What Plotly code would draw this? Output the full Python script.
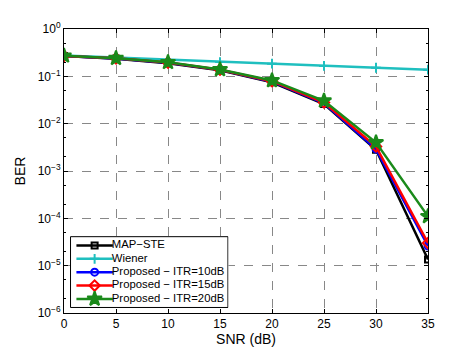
import plotly.graph_objects as go

snr = [0, 5, 10, 15, 20, 25, 30, 35]
map_ste = [0.27, 0.235, 0.19, 0.135, 0.075, 0.026, 0.0028, 1.35e-5]
wiener = [0.275, 0.25, 0.22, 0.2, 0.185, 0.166, 0.152, 0.138]
itr10 = [0.27, 0.238, 0.193, 0.137, 0.077, 0.027, 0.0029, 2.6e-5]
itr15 = [0.27, 0.24, 0.195, 0.138, 0.079, 0.028, 0.0033, 3.0e-5]
itr20 = [0.272, 0.242, 0.198, 0.14, 0.082, 0.0305, 0.0040, 1.1e-4]
names = ["MAP\u2212STE", "Wiener", "Proposed \u2212 ITR=10dB",
         "Proposed \u2212 ITR=15dB", "Proposed \u2212 ITR=20dB"]

values = [map_ste, wiener, itr10, itr15, itr20]
styles = [
    ("black", "square-open", 6),
    ("#1fbfbf", "cross-thin-open", 7),
    ("#0000ff", "circle-open", 7),
    ("#ff0000", "diamond-open", 8),
    ("#1a8a1a", "star", 11),
]

yticks = [1e-6, 1e-5, 1e-4, 1e-3, 1e-2, 1e-1, 1]
ytext = ["10<sup>\u22126</sup>", "10<sup>\u22125</sup>", "10<sup>\u22124</sup>",
         "10<sup>\u22123</sup>", "10<sup>\u22122</sup>", "10<sup>\u22121</sup>", "10<sup>0</sup>"]

FONT = "Liberation Sans, Arial, sans-serif"
fig = go.Figure()
for name, vals, (col, sym, size) in zip(names, values, styles):
    fig.add_trace(go.Scatter(
        x=snr, y=vals, name=name, mode="lines+markers", showlegend=False,
        line=dict(color=col, width=2.5),
        marker=dict(symbol=sym, size=size, color=col,
                    line=dict(color=col, width=2)),
    ))

# Custom legend drawn in an inset axis (units ~ pixels of the legend box)
BOX_W, BOX_H = 160, 73
ROW0, ROW_STEP = 9, 13.8
fig.add_trace(go.Scatter(x=[0, BOX_W, BOX_W, 0, 0], y=[0, 0, BOX_H, BOX_H, 0],
                         xaxis="x2", yaxis="y2", mode="lines", fill="toself",
                         fillcolor="white", line=dict(color="black", width=1),
                         showlegend=False, hoverinfo="skip"))
for i, (name, (col, sym, size)) in enumerate(zip(names, styles)):
    ry = ROW0 + ROW_STEP * i
    fig.add_trace(go.Scatter(x=[6, 43], y=[ry, ry], xaxis="x2", yaxis="y2",
                             mode="lines", line=dict(color=col, width=2.5),
                             showlegend=False, hoverinfo="skip"))
    fig.add_trace(go.Scatter(x=[24.5], y=[ry], xaxis="x2", yaxis="y2",
                             mode="markers", showlegend=False, hoverinfo="skip",
                             cliponaxis=False,
                             marker=dict(symbol=sym, size=size, color=col,
                                         line=dict(color=col, width=2))))
    fig.add_trace(go.Scatter(x=[42], y=[ry], xaxis="x2", yaxis="y2",
                             mode="text", text=[name], textposition="middle right",
                             cliponaxis=False,
                             textfont=dict(family=FONT, size=11.3, color="black"),
                             showlegend=False, hoverinfo="skip"))

# page body has an 8px margin: figure origin sits at (8, 8) in the window
fig.update_layout(
    width=466, height=347,
    margin=dict(l=53, r=46, t=19, b=40),
    paper_bgcolor="white", plot_bgcolor="white",
    font=dict(family=FONT, size=12, color="black"),
    showlegend=False,
    xaxis=dict(range=[0, 35], tickvals=[0, 5, 10, 15, 20, 25, 30, 35],
               showgrid=True, gridcolor="#888888", griddash="dash", gridwidth=1,
               showline=True, linecolor="black", linewidth=1, mirror="ticks",
               ticks="inside", ticklen=4, tickcolor="black",
               zeroline=False,
               title=dict(text="SNR (dB)", standoff=2)),
    yaxis=dict(type="log", range=[-6, 0], tickvals=yticks, ticktext=ytext,
               showgrid=True, gridcolor="#888888", griddash="dash", gridwidth=1,
               showline=True, linecolor="black", linewidth=1, mirror="ticks",
               ticks="inside", ticklen=4, tickcolor="black",
               minor=dict(ticks="inside", ticklen=2, tickcolor="black", showgrid=False),
               zeroline=False,
               title=dict(text="BER", standoff=8)),
    xaxis2=dict(domain=[0.0163, 0.452], range=[-0.6, BOX_W + 0.6], anchor="y2",
                visible=False, fixedrange=True),
    yaxis2=dict(domain=[0.0174, 0.2708], range=[BOX_H + 0.6, -0.6], anchor="x2",
                visible=False, fixedrange=True),
)

fig.write_html("out.html")
